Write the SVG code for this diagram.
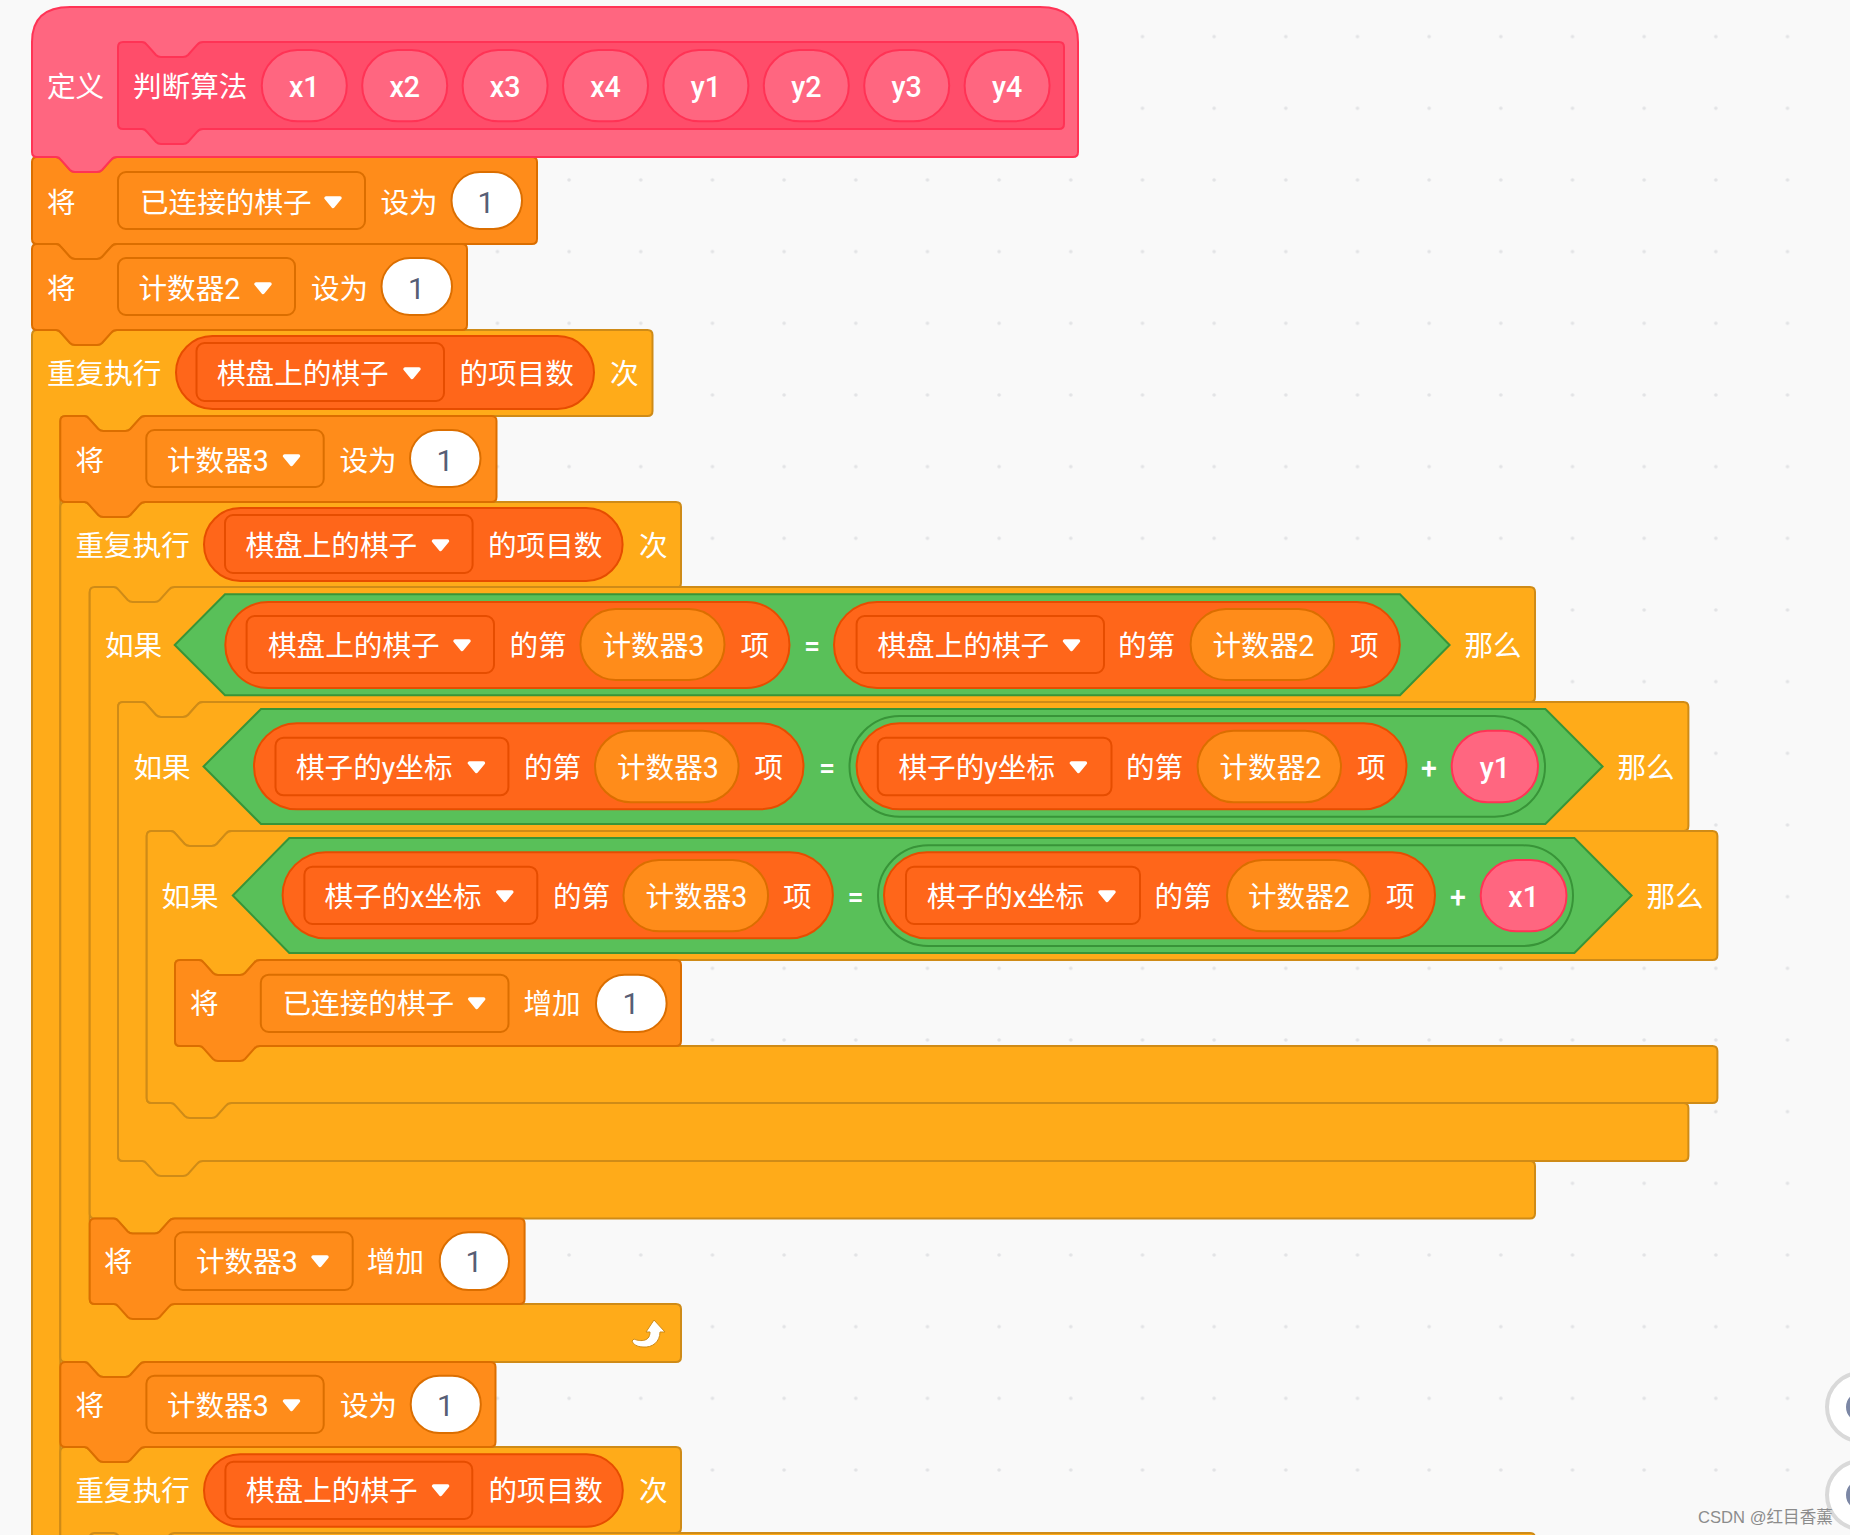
<svg xmlns="http://www.w3.org/2000/svg" width="1850" height="1535" viewBox="0 0 1850 1535">
<style>
text{font-family:"Roboto","Noto Sans CJK SC",sans-serif;font-size:28.6px;fill:#fff;transform:translateY(1px)}
#hat-block text{transform:none}
.m{text-anchor:middle}
.n{fill:#575e75;font-size:30px}
.b{font-weight:500}
.hat{fill:#ff6680;stroke:#ff3355;stroke-width:2}
.proto{fill:#ff4d6a;stroke:#ff3355;stroke-width:2}
.arg{fill:#ff6680;stroke:#ff3355;stroke-width:2}
.var{fill:#ff8c1a;stroke:#db6e00;stroke-width:2}
.ctl{fill:#ffab19;stroke:#cf8b17;stroke-width:2}
.inp{fill:#fff;stroke:#db6e00;stroke-width:2}
.op{fill:#ff661a;stroke:#e64d00;stroke-width:2}
.grn{fill:#59c059;stroke:#389438;stroke-width:2}
.zb{fill:#fff;stroke:#d9d9d9;stroke-width:4}
.zi{fill:none;stroke:#7c87a5;stroke-width:4}
</style>
<defs>
<pattern id="dots" patternUnits="userSpaceOnUse" x="1787.5" y="1470" width="71.67" height="71.67">
<circle cx="0" cy="0" r="1.8" fill="#e2e3e5"/><circle cx="71.67" cy="0" r="1.8" fill="#e2e3e5"/><circle cx="0" cy="71.67" r="1.8" fill="#e2e3e5"/><circle cx="71.67" cy="71.67" r="1.8" fill="#e2e3e5"/>
</pattern>
<path id="a" d="M-7-4H7L0 4.500Z" fill="#fff" stroke="#fff" stroke-width="3.500" stroke-linejoin="round"/>
</defs>
<rect width="1850" height="1535" fill="#f9f9f9"/>
<rect width="1850" height="1535" fill="url(#dots)"/>

<g id="zoom-controls">
<circle class="zb" cx="1861" cy="1407" r="34"/><circle class="zi" cx="1861" cy="1407" r="13"/>
<circle class="zb" cx="1861" cy="1495" r="34"/><circle class="zi" cx="1861" cy="1495" r="13"/>
</g>

<g id="repeat-1">
<path class="ctl" d="M32 335q0-5 5-5H56q3 0 5 3l9 10q2 2 5 2h22q3 0 5-2l9-10q2-3 6-3H647.500q5 0 5 5V411q0 5-5 5H145.300q-4 0-6 3l-9 10q-2 2-5 2h-22q-3 0-5-2l-9-10q-2-3-5-3H65.300q-5 0-5 5V1560H32Z"/>
<text x="47" y="383">重复执行</text>
<rect class="op" x="176" y="336" width="418" height="73" rx="36.500"/>
<rect class="op" x="196.500" y="343" width="247.500" height="58" rx="8"/>
<text x="217" y="383">棋盘上的棋子</text><use href="#a" x="412" y="373"/>
<text x="459.500" y="383">的项目数</text><text x="610" y="383">次</text>
</g>

<g id="repeat-2">
<path class="ctl" d="M60.300 507q0-5 5-5H84.300q3 0 5 3l9 10q2 2 5 2h22q3 0 5-2l9-10q2-3 6-3H676q5 0 5 5V583q0 5-5 5H174.700q-4 0-6 3l-9 10q-2 2-5 2h-22q-3 0-5-2l-9-10q-2-3-5-3H94.700q-5 0-5 5V1299q0 5 5 5H676q5 0 5 5V1357q0 5-5 5H145.300q-4 0-6 3l-9 10q-2 2-5 2h-22q-3 0-5-2l-9-10q-2-3-5-3H65.300q-5 0-5-5Z"/>
<text x="75.500" y="555">重复执行</text>
<rect class="op" x="204" y="508" width="418.600" height="73" rx="36.500"/>
<rect class="op" x="225" y="515" width="247.600" height="58" rx="8"/>
<text x="245.500" y="555">棋盘上的棋子</text><use href="#a" x="440.500" y="545"/>
<text x="488" y="555">的项目数</text><text x="639" y="555">次</text>
<path d="M654 1320L665 1332H660C660 1342 652 1348 643 1347C637 1347 633 1344 632 1341L634 1339C638 1341 650 1343 650 1332H646Z" fill="#fff" stroke="#cf8b17" stroke-width="1" stroke-linejoin="round"/>
</g>

<g id="if-1">
<path class="ctl" d="M89.700 592q0-5 5-5H113.700q3 0 5 3l9 10q2 2 5 2h22q3 0 5-2l9-10q2-3 6-3H1530q5 0 5 5V697q0 5-5 5H203q-4 0-6 3l-9 10q-2 2-5 2h-22q-3 0-5-2l-9-10q-2-3-5-3H123q-5 0-5 5V1156q0 5 5 5H1530q5 0 5 5V1213.500q0 5-5 5H174.700q-4 0-6 3l-9 10q-2 2-5 2h-22q-3 0-5-2l-9-10q-2-3-5-3H94.700q-5 0-5-5Z"/>
<text x="105" y="655">如果</text>
<polygon class="grn" points="225,594.300 1400,594.300 1449.600,645 1400,695.300 225,695.300 174.700,645"/>
<rect class="op" x="225.300" y="602" width="564.200" height="86" rx="43"/>
<rect class="op" x="246.600" y="616" width="247.400" height="57" rx="8"/>
<text x="268" y="655">棋盘上的棋子</text><use href="#a" x="462" y="645"/>
<text x="509.500" y="655">的第</text>
<rect class="var" x="580.400" y="609" width="144.100" height="71" rx="35.500"/>
<text x="602.500" y="655">计数器3</text><text x="740.500" y="655">项</text>
<text class="m b" x="812" y="655">=</text>
<rect class="op" x="834" y="602" width="565.800" height="86" rx="43"/>
<rect class="op" x="856.600" y="616" width="247.400" height="57" rx="8"/>
<text x="877.500" y="655">棋盘上的棋子</text><use href="#a" x="1071.500" y="645"/>
<text x="1118" y="655">的第</text>
<rect class="var" x="1190.600" y="609" width="143.400" height="71" rx="35.500"/>
<text x="1212.500" y="655">计数器2</text><text x="1350" y="655">项</text>
<text x="1464.500" y="655">那么</text>
</g>

<g id="if-2">
<path class="ctl" d="M118 707q0-5 5-5H142q3 0 5 3l9 10q2 2 5 2h22q3 0 5-2l9-10q2-3 6-3H1683.400q5 0 5 5V826q0 5-5 5H231.700q-4 0-6 3l-9 10q-2 2-5 2h-22q-3 0-5-2l-9-10q-2-3-5-3H151.700q-5 0-5 5V1098q0 5 5 5H1683.400q5 0 5 5V1156q0 5-5 5H203q-4 0-6 3l-9 10q-2 2-5 2h-22q-3 0-5-2l-9-10q-2-3-5-3H123q-5 0-5-5Z"/>
<text x="133.500" y="777">如果</text>
<polygon class="grn" points="261,709 1545.400,709 1602.600,766.500 1545.400,824 261,824 203.500,766.500"/>
<rect class="op" x="254" y="723.300" width="549.500" height="86" rx="43"/>
<rect class="op" x="275.500" y="737.700" width="232.900" height="57.600" rx="8"/>
<text x="296" y="777">棋子的y坐标</text><use href="#a" x="476.400" y="767"/>
<text x="524" y="777">的第</text>
<rect class="var" x="595" y="730.700" width="143.600" height="71.600" rx="35.800"/>
<text x="617" y="777">计数器3</text><text x="754.500" y="777">项</text>
<text class="m b" x="827" y="777">=</text>
<rect class="grn" x="849.500" y="716" width="695.500" height="100.700" rx="50.300"/>
<rect class="op" x="856.600" y="723.300" width="549.900" height="86" rx="43"/>
<rect class="op" x="877.800" y="737.700" width="233.700" height="57.600" rx="8"/>
<text x="898.500" y="777">棋子的y坐标</text><use href="#a" x="1078.400" y="767"/>
<text x="1126" y="777">的第</text>
<rect class="var" x="1197.600" y="730.700" width="143.400" height="71.600" rx="35.800"/>
<text x="1219.500" y="777">计数器2</text><text x="1357" y="777">项</text>
<text class="m b" x="1429" y="777">+</text>
<rect class="arg" x="1451.700" y="730.700" width="86.300" height="71.600" rx="35.800"/>
<text class="m b" x="1494.800" y="777">y1</text>
<text x="1617.500" y="777">那么</text>
</g>

<g id="if-3">
<path class="ctl" d="M146.700 836q0-5 5-5H170.700q3 0 5 3l9 10q2 2 5 2h22q3 0 5-2l9-10q2-3 6-3H1712.400q5 0 5 5V955q0 5-5 5H260q-4 0-6 3l-9 10q-2 2-5 2h-22q-3 0-5-2l-9-10q-2-3-5-3H180q-5 0-5 5V1041q0 5 5 5H1712.400q5 0 5 5V1098q0 5-5 5H231.700q-4 0-6 3l-9 10q-2 2-5 2h-22q-3 0-5-2l-9-10q-2-3-5-3H151.700q-5 0-5-5Z"/>
<text x="161.500" y="906">如果</text>
<polygon class="grn" points="289.300,838 1574.400,838 1631.600,895.500 1574.400,953 289.300,953 232.800,895.500"/>
<rect class="op" x="282.600" y="852.300" width="550.300" height="86" rx="43"/>
<rect class="op" x="304.400" y="866.700" width="232.900" height="57.300" rx="8"/>
<text x="324.500" y="906">棋子的x坐标</text><use href="#a" x="504.800" y="896"/>
<text x="553" y="906">的第</text>
<rect class="var" x="623.500" y="860" width="144.500" height="71.300" rx="35.600"/>
<text x="645.500" y="906">计数器3</text><text x="783" y="906">项</text>
<text class="m b" x="855.500" y="906">=</text>
<rect class="grn" x="878" y="845.300" width="695" height="100.700" rx="50.300"/>
<rect class="op" x="884" y="852.300" width="551" height="86" rx="43"/>
<rect class="op" x="906" y="866.700" width="234" height="57.300" rx="8"/>
<text x="927" y="906">棋子的x坐标</text><use href="#a" x="1107" y="896"/>
<text x="1154.500" y="906">的第</text>
<rect class="var" x="1227" y="860" width="143" height="71.300" rx="35.600"/>
<text x="1248" y="906">计数器2</text><text x="1386" y="906">项</text>
<text class="m b" x="1457.900" y="906">+</text>
<rect class="arg" x="1480.700" y="860" width="85.800" height="71.300" rx="35.600"/>
<text class="m b" x="1523.600" y="906">x1</text>
<text x="1646.500" y="906">那么</text>
</g>

<g id="set-connected">
<path class="var" d="M32 162q0-5 5-5H56q3 0 5 3l9 10q2 2 5 2h22q3 0 5-2l9-10q2-3 6-3H532q5 0 5 5V239q0 5-5 5H117q-4 0-6 3l-9 10q-2 2-5 2h-22q-3 0-5-2l-9-10q-2-3-5-3H37q-5 0-5-5Z"/>
<text x="47" y="212">将</text>
<rect class="var" x="118" y="172" width="247" height="57" rx="8"/>
<text x="140" y="212">已连接的棋子</text><use href="#a" x="333" y="202"/>
<text x="380.500" y="212">设为</text>
<rect class="inp" x="451.500" y="172" width="70.500" height="57" rx="28.500"/><text class="m n" x="486" y="212">1</text>
</g>

<g id="hat-block">
<path class="hat" d="M32 42Q32 7 70 7H1040Q1078 7 1078 42V152q0 5-5 5H117q-4 0-6 3l-9 10q-2 2-5 2h-22q-3 0-5-2l-9-10q-2-3-5-3H37q-5 0-5-5Z"/>
<text x="47" y="97">定义</text>
<path class="proto" d="M118 47q0-5 5-5H142q3 0 5 3l9 10q2 2 5 2h22q3 0 5-2l9-10q2-3 6-3H1059q5 0 5 5V124q0 5-5 5H203q-4 0-6 3l-9 10q-2 2-5 2h-22q-3 0-5-2l-9-10q-2-3-5-3H123q-5 0-5-5Z"/>
<text x="133" y="97">判断算法</text>
<rect class="arg" x="261.800" y="50" width="85" height="71.300" rx="35.600"/><text class="m b" x="304.300" y="97">x1</text>
<rect class="arg" x="362.200" y="50" width="85" height="71.300" rx="35.600"/><text class="m b" x="404.700" y="97">x2</text>
<rect class="arg" x="462.600" y="50" width="85" height="71.300" rx="35.600"/><text class="m b" x="505.100" y="97">x3</text>
<rect class="arg" x="563" y="50" width="85" height="71.300" rx="35.600"/><text class="m b" x="605.500" y="97">x4</text>
<rect class="arg" x="663.400" y="50" width="85" height="71.300" rx="35.600"/><text class="m b" x="705.900" y="97">y1</text>
<rect class="arg" x="763.800" y="50" width="85" height="71.300" rx="35.600"/><text class="m b" x="806.300" y="97">y2</text>
<rect class="arg" x="864.200" y="50" width="85" height="71.300" rx="35.600"/><text class="m b" x="906.700" y="97">y3</text>
<rect class="arg" x="964.600" y="50" width="85" height="71.300" rx="35.600"/><text class="m b" x="1007.100" y="97">y4</text>
</g>

<g id="set-counter2">
<path class="var" d="M32 249q0-5 5-5H56q3 0 5 3l9 10q2 2 5 2h22q3 0 5-2l9-10q2-3 6-3H462q5 0 5 5V325q0 5-5 5H117q-4 0-6 3l-9 10q-2 2-5 2h-22q-3 0-5-2l-9-10q-2-3-5-3H37q-5 0-5-5Z"/>
<text x="47" y="298">将</text>
<rect class="var" x="118" y="258" width="177" height="57" rx="8"/>
<text x="138.500" y="298">计数器2</text><use href="#a" x="263" y="288"/>
<text x="311" y="298">设为</text>
<rect class="inp" x="381.500" y="258" width="70.500" height="57" rx="28.500"/><text class="m n" x="416.500" y="298">1</text>
</g>

<g id="set-counter3-a">
<path class="var" d="M60.300 421q0-5 5-5H84.300q3 0 5 3l9 10q2 2 5 2h22q3 0 5-2l9-10q2-3 6-3H491.500q5 0 5 5V497q0 5-5 5H145.300q-4 0-6 3l-9 10q-2 2-5 2h-22q-3 0-5-2l-9-10q-2-3-5-3H65.300q-5 0-5-5Z"/>
<text x="75.500" y="470">将</text>
<rect class="var" x="146.300" y="430" width="177.400" height="57" rx="8"/>
<text x="167" y="470">计数器3</text><use href="#a" x="291.500" y="460"/>
<text x="339.500" y="470">设为</text>
<rect class="inp" x="410" y="430" width="70.500" height="57" rx="28.500"/><text class="m n" x="445" y="470">1</text>
</g>

<g id="change-connected">
<path class="var" d="M175 965q0-5 5-5H199q3 0 5 3l9 10q2 2 5 2h22q3 0 5-2l9-10q2-3 6-3H676q5 0 5 5V1041q0 5-5 5H260q-4 0-6 3l-9 10q-2 2-5 2h-22q-3 0-5-2l-9-10q-2-3-5-3H180q-5 0-5-5Z"/>
<text x="190" y="1013">将</text>
<rect class="var" x="260.800" y="974.700" width="247.700" height="57.300" rx="8"/>
<text x="282.500" y="1013">已连接的棋子</text><use href="#a" x="476.700" y="1003"/>
<text x="523.500" y="1013">增加</text>
<rect class="inp" x="596" y="974.700" width="70.600" height="57.300" rx="28.600"/><text class="m n" x="631" y="1013">1</text>
</g>

<g id="change-counter3">
<path class="var" d="M89.700 1223.500q0-5 5-5H113.700q3 0 5 3l9 10q2 2 5 2h22q3 0 5-2l9-10q2-3 6-3H519.600q5 0 5 5V1299q0 5-5 5H174.700q-4 0-6 3l-9 10q-2 2-5 2h-22q-3 0-5-2l-9-10q-2-3-5-3H94.700q-5 0-5-5Z"/>
<text x="104" y="1271">将</text>
<rect class="var" x="175" y="1232.300" width="177.700" height="57.700" rx="8"/>
<text x="196" y="1271">计数器3</text><use href="#a" x="320" y="1261"/>
<text x="367" y="1271">增加</text>
<rect class="inp" x="439.700" y="1232.300" width="69.300" height="57.700" rx="28.800"/><text class="m n" x="474" y="1271">1</text>
</g>

<g id="if-4">
<path class="ctl" d="M89.700 1538q0-5 5-5H113.700q3 0 5 3l9 10q2 2 5 2h22q3 0 5-2l9-10q2-3 6-3H1530q5 0 5 5V1560H89.700Z"/>
</g>

<g id="repeat-3">
<path class="ctl" d="M60.300 1452q0-5 5-5H84.300q3 0 5 3l9 10q2 2 5 2h22q3 0 5-2l9-10q2-3 6-3H676q5 0 5 5V1528q0 5-5 5H174.700q-4 0-6 3l-9 10q-2 2-5 2h-22q-3 0-5-2l-9-10q-2-3-5-3H94.700q-5 0-5 5V1560H60.300Z"/>
<text x="75.500" y="1500">重复执行</text>
<rect class="op" x="204" y="1454.300" width="418.800" height="72.400" rx="36.200"/>
<rect class="op" x="225.400" y="1461.700" width="246.900" height="57.300" rx="8"/>
<text x="246" y="1500">棋盘上的棋子</text><use href="#a" x="440.600" y="1490"/>
<text x="488.500" y="1500">的项目数</text><text x="639" y="1500">次</text>
</g>

<g id="set-counter3-b">
<path class="var" d="M60.300 1367q0-5 5-5H84.300q3 0 5 3l9 10q2 2 5 2h22q3 0 5-2l9-10q2-3 6-3H490.500q5 0 5 5V1442q0 5-5 5H145.300q-4 0-6 3l-9 10q-2 2-5 2h-22q-3 0-5-2l-9-10q-2-3-5-3H65.300q-5 0-5-5Z"/>
<text x="75.500" y="1415">将</text>
<rect class="var" x="146.400" y="1375.700" width="177.300" height="57.300" rx="8"/>
<text x="167" y="1415">计数器3</text><use href="#a" x="291.500" y="1405"/>
<text x="340" y="1415">设为</text>
<rect class="inp" x="410.700" y="1375.700" width="70.100" height="57.300" rx="28.600"/><text class="m n" x="445.500" y="1415">1</text>
</g>

<text id="watermark" x="1698" y="1522.500" style="font-family:'Liberation Sans','Noto Sans CJK SC',sans-serif;font-size:16.600px;fill:#8c8c8c;transform:none">CSDN @红目香薰</text>
</svg>
